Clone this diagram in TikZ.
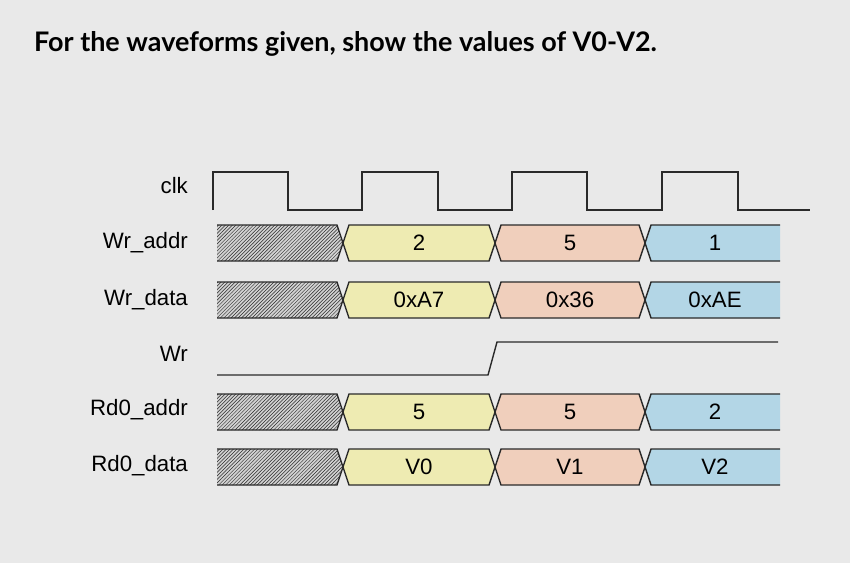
\documentclass[tikz,border=0pt]{standalone}
\usepackage{fontspec}
\setmainfont{Liberation Sans}
\newfontfamily\titlefont{Lato}
\usetikzlibrary{patterns}
\definecolor{bg}{HTML}{E9E9E9}
\definecolor{ylw}{HTML}{EEEBB2}
\definecolor{pch}{HTML}{F0CFBC}
\definecolor{blu}{HTML}{B3D6E6}
\definecolor{ln}{HTML}{2A2A2A}
\tikzset{wave/.style={draw=ln,line width=1.2pt},
 lbl/.style={anchor=east,font=\fontsize{19}{21}\selectfont},
 val/.style={font=\fontsize{19}{21}\selectfont}}
% seg: #1 y center, #2 start, #3 end, #4 fill, #5 text, #6 name
\newcommand{\busseg}[6]{%
 \fill[#4] (#2,#1) -- (#2+6,#1-18) -- (#3-6,#1-18) -- (#3,#1) -- (#3-6,#1+18) -- (#2+6,#1+18) -- cycle;
 \draw[wave] (#2,#1) -- (#2+6,#1-18) -- (#3-6,#1-18) -- (#3,#1) -- (#3-6,#1+18) -- (#2+6,#1+18) -- cycle;
 \node[val] (#6) at ({(#2+#3)/2},#1) {#5};}
% row: #1 y, #2 #3 #4 values, #5 name prefix
\newcommand{\busrow}[5]{%
 \fill[gray!35] (217,#1-18) -- (337,#1-18) -- (343,#1) -- (337,#1+18) -- (217,#1+18) -- cycle;
 \fill[pattern=north east lines,pattern color=ln] (217,#1-18) -- (337,#1-18) -- (343,#1) -- (337,#1+18) -- (217,#1+18) -- cycle;
 \draw[wave] (217,#1-18) -- (337,#1-18) -- (343,#1) -- (337,#1+18) -- (217,#1+18);
 \busseg{#1}{343}{495}{ylw}{#2}{#5a}
 \busseg{#1}{495}{645}{pch}{#3}{#5b}
 \fill[blu] (645,#1) -- (651,#1-18) -- (780,#1-18) -- (780,#1+18) -- (651,#1+18) -- cycle;
 \draw[wave] (780,#1-18) -- (651,#1-18) -- (645,#1) -- (651,#1+18) -- (780,#1+18);
 \node[val] (#5c) at (715,#1) {#4};}
\begin{document}
\begin{tikzpicture}[x=0.03cm,y=-0.03cm]
\fill[bg] (0,0) rectangle (850,563);
\node[anchor=west,font=\titlefont\bfseries\fontsize{23}{26}\selectfont] (title) at (30,44) {For the waveforms given, show the values of V0-V2.};
\node[lbl] (clk) at (192,186) {clk};
\draw[wave] (213,210) -- (213,172) -- (288,172) -- (288,210) -- (362,210) -- (362,172) -- (438,172) -- (438,210) -- (512,210) -- (512,172) -- (587,172) -- (587,210) -- (662,210) -- (662,172) -- (738,172) -- (738,210) -- (810,210);
\node[lbl] (wra) at (192,243) {Wr\_addr};
\busrow{243}{2}{5}{1}{wa}
\node[lbl] (wrd) at (192,300) {Wr\_data};
\busrow{300}{0xA7}{0x36}{0xAE}{wd}
\node[lbl] (wr) at (192,354) {Wr};
\draw[wave] (217,375) -- (488,375) -- (497,342) -- (778,342);
\node[lbl] (rda) at (192,410) {Rd0\_addr};
\busrow{412}{5}{5}{2}{ra}
\node[lbl] (rdd) at (192,466) {Rd0\_data};
\busrow{467}{V0}{V1}{V2}{rd}
\end{tikzpicture}
\end{document}
